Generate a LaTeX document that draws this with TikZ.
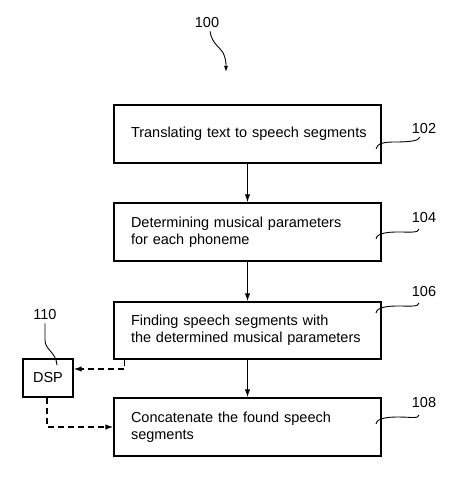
\documentclass[tikz,border=0pt]{standalone}
\usepackage{fontspec}
\setmainfont{Liberation Sans}
\usetikzlibrary{arrows.meta,calc}
\begin{document}
\begin{tikzpicture}[x=1pt,y=-1pt,
  every node/.style={font=\fontsize{14.5}{17}\selectfont},
  stepbox/.style={draw,line width=1.4pt,minimum width=267pt,minimum height=58pt,
    inner xsep=17pt,inner ysep=0pt,text width=233pt,align=left},
  dspbox/.style={draw,line width=1.4pt,minimum width=50pt,minimum height=38pt,inner sep=0pt},
  reflab/.style={inner sep=0pt},
  flow/.style={line width=1.2pt,-{Latex[length=8pt,width=5.5pt]}},
  dflow/.style={line width=1.2pt,dash pattern=on 6pt off 4pt,-{Latex[length=8pt,width=5.5pt]}},
  leader/.style={line width=0.9pt}]
\useasboundingbox (0,0) rectangle (474,489);
\node[stepbox] (b1) at (247.5,134) {\mbox{Translating text to speech segments}};
\node[stepbox] (b2) at (247.5,232) {Determining musical parameters\\for each phoneme};
\node[stepbox,minimum height=57pt] (b3) at (247.5,330.5) {Finding speech segments with\\the determined musical parameters};
\node[stepbox] (b4) at (247.5,427) {Concatenate the found speech\\segments};
\node[dspbox] (dsp) at (48,378) {DSP};
\draw[flow] (b1.south) -- (b2.north);
\draw[flow] (b2.south) -- (b3.north);
\draw[flow] (b3.south) -- (b4.north);
\draw[dflow] ([xshift=11pt]b3.south west) |- ([yshift=9pt]dsp.east);
\draw[dflow] ([xshift=-1pt]dsp.south) |- (b4.west);
% reference labels
\node[reflab] (l100) at (207,23) {100};
\node[reflab] (l102) at (424,129) {102};
\node[reflab] (l104) at (424,218) {104};
\node[reflab] (l106) at (424,292) {106};
\node[reflab] (l108) at (424,403) {108};
\node[reflab] (l110) at (45,315) {110};
\coordinate (t100) at (226,72);
\draw[leader,-{Latex[length=6pt,width=4pt]}] ([xshift=3pt,yshift=-3pt]l100.south) .. controls (212,45) and (222,48) .. (224,55) .. controls (226,60) and (226,64) .. (t100);
\draw[leader] (376,149) .. controls +(1,-6) and +(-10,0) .. (395,142) .. controls +(14,0) and +(-1,4) .. (420,137);
\draw[leader] (376,239) .. controls +(1,-6) and +(-10,0) .. (398,232) .. controls +(14,0) and +(-1,4) .. (419,229);
\draw[leader] (376,313) .. controls +(1,-6) and +(-10,0) .. (398,306) .. controls +(14,0) and +(-1,4) .. (419,303);
\draw[leader] (376,424) .. controls +(1,-6) and +(-10,0) .. (398,417) .. controls +(14,0) and +(-1,4) .. (419,415);
\draw[leader] ([yshift=-3pt]l110.south) -- (45,340) .. controls (45,350) and (56,352) .. (57,365);
\end{tikzpicture}
\end{document}
